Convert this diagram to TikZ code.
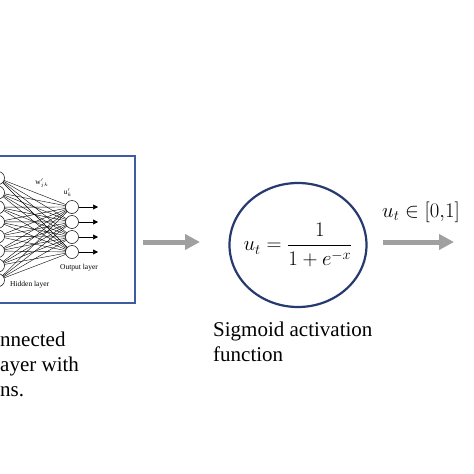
\documentclass[tikz,border=0pt]{standalone}
\usepackage{fontspec}
\setmainfont{Liberation Serif}
\usepackage{amsmath}
\usetikzlibrary{shapes.geometric, arrows.meta, positioning, calc}
\definecolor{boxblue}{RGB}{62, 92, 160}
\definecolor{circnavy}{RGB}{38, 58, 112}
\definecolor{arrowgrey}{RGB}{160, 160, 160}

\begin{document}
\begin{tikzpicture}[
    x=1pt, y=-1pt,
    netbox/.style={rectangle, draw=boxblue, line width=2pt, fill=white, minimum width=300pt, minimum height=147pt},
    neuron/.style={circle, draw=black, line width=0.5pt, fill=white, minimum size=13pt, inner sep=0pt},
    wire/.style={black, line width=0.4pt},
    tiny/.style={font=\fontsize{7.5}{8}\selectfont, inner sep=0pt},
    caption/.style={font=\fontsize{21}{25}\selectfont, align=left, inner sep=0pt},
    bigarrow/.style={-{Triangle[length=15pt, width=15pt]}, line width=5pt, arrowgrey}
]
\useasboundingbox (0,0) rectangle (474,474);
\clip (0,0) rectangle (474,474);
\fill[white] (0,0) rectangle (474,474);

% Network box (left part cut off)
\node[netbox] (net) at (-15,229) {};

% hidden and output layers
\foreach \i in {1,...,8}
  \coordinate (h\i) at (-2,{178+14.6*(\i-1)});
\foreach \k in {1,...,4}
  \coordinate (o\k) at (72,{207+15*(\k-1)});
\foreach \i in {1,...,8}
  \foreach \k in {1,...,4}
    \draw[wire] (h\i) -- (o\k);
\foreach \i in {1,...,8}
  \node[neuron] (hn\i) at (h\i) {};
\foreach \k in {1,...,4} {
  \node[neuron] (on\k) at (o\k) {};
  \coordinate (out\k) at (98,{207+15*(\k-1)});
  \draw[-{Triangle[length=5pt, width=5pt]}, line width=0.6pt] (on\k) -- (out\k);
}
\node[tiny] (wlab) at (42,183) {w$'_{jk}$};
\node[tiny] (ulab) at (68,193) {u$'_{k}$};
\node[tiny, anchor=west] (outlab) at (60,268) {Output layer};
\node[tiny, anchor=west] (hidlab) at (10,285) {Hidden layer};

% caption of the box
\node[caption, anchor=base west] (netcap) at (0,396) {nnected\\ayer with\\ns.};

% Sigmoid
\node[ellipse, draw=circnavy, line width=2.2pt, minimum width=137pt, minimum height=124pt, inner sep=0pt] (sig) at (298,245) {};
\node[font=\fontsize{21}{24}\selectfont, inner sep=0pt] (sigf) at (sig.center) {$u_t=\dfrac{1}{1+e^{-x}}$};
\node[caption, anchor=base west] (sigcap) at (213,361) {Sigmoid activation\\function};

% arrows
\coordinate (in) at (200,242);
\coordinate (end) at (454,242);
\draw[bigarrow] (net.east |- in) ++(7,0) -- (in);
\draw[bigarrow, shorten <=15pt] (sig.east |- end) -- (end);
\node[font=\fontsize{21}{24}\selectfont, inner sep=0pt] (rng) at (421,212) {$u_t\in[0{,}1]$};
\end{tikzpicture}
\end{document}
